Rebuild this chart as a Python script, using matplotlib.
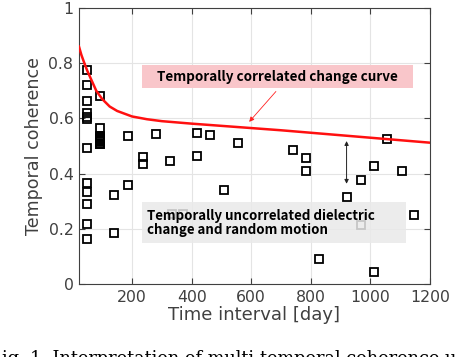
import matplotlib.pyplot as plt
import matplotlib.patches as mpatches
import numpy as np

# curve
curve_day = [22, 30, 40, 50, 60, 80, 100, 125, 150, 200, 250, 300, 400, 500,
             600, 700, 800, 900, 1000, 1100, 1200]
curve_coh = [0.86, 0.83, 0.80, 0.772, 0.748, 0.70, 0.67, 0.643, 0.627, 0.607,
             0.597, 0.59, 0.581, 0.573, 0.565, 0.557, 0.548, 0.539, 0.53,
             0.521, 0.512]

# measured coherence points
pt_day = [49] * 12 + [93] * 11 + [140, 140, 187, 187, 236, 236, 280, 327, 333,
          372, 417, 417, 462, 510, 557, 739, 784, 784, 828, 920, 967, 967,
          1013, 1013, 1057, 1105, 1147]
pt_coh = [0.775, 0.72, 0.664, 0.618, 0.606, 0.598, 0.492, 0.365, 0.334, 0.29,
          0.217, 0.164,
          0.682, 0.565, 0.537, 0.533, 0.529, 0.525, 0.521, 0.517, 0.513, 0.509,
          0.506,
          0.321, 0.184, 0.537, 0.359, 0.461, 0.434, 0.543, 0.447, 0.254,
          0.254, 0.548, 0.462, 0.54, 0.34, 0.51, 0.486, 0.456, 0.41, 0.09,
          0.314, 0.377, 0.214, 0.427, 0.045, 0.525, 0.41, 0.25]

txtc = '#404040'
boxfont = ['Noto Sans CJK KR', 'DejaVu Sans']
fig = plt.figure(figsize=(4.74, 3.57), dpi=100)
ax = fig.add_axes([79 / 474, 73 / 357, 351 / 474, 276 / 357])

ax.plot(curve_day, curve_coh, color='#ff1010', lw=1.8, zorder=3)
ax.plot(pt_day, pt_coh, ls='none', marker='s', mfc='none', mec='black',
        ms=6.2, mew=1.3, zorder=2)

ax.set_xlim(22, 1200)
ax.set_ylim(0, 1)
ax.set_xticks([200, 400, 600, 800, 1000, 1200])
ax.set_yticks([0, 0.2, 0.4, 0.6, 0.8, 1])
ax.set_yticklabels(['0', '0.2', '0.4', '0.6', '0.8', '1'])
ax.tick_params(direction='in', top=True, right=True, labelsize=11.3,
               colors='#404040', length=4, width=0.8, pad=4)
ax.grid(True, color='#e4e4e4', lw=0.8)
ax.set_axisbelow(True)
for s in ax.spines.values():
    s.set_color('#404040')
    s.set_linewidth(0.8)

ax.set_xlabel('Time interval [day]', fontsize=13, color=txtc, labelpad=1)
ax.set_ylabel('Temporal coherence', fontsize=12.6, color=txtc, labelpad=4)

# correlated curve label
ax.add_patch(mpatches.Rectangle((232, 0.71), 911, 0.083, color='#f9c6ca',
                                lw=0, zorder=4))
ax.text(687, 0.7515, 'Temporally correlated change curve', ha='center',
        va='center', fontsize=9.7, weight='bold', family=boxfont,
        color='black', zorder=5)
ax.annotate('', xy=(587, 0.58), xytext=(689, 0.705),
            arrowprops=dict(arrowstyle='-|>', color='#ff2020', lw=0.6,
                            mutation_scale=7), zorder=5)

# uncorrelated label
ax.add_patch(mpatches.Rectangle((232, 0.15), 887, 0.148, color='#e9e9e9',
                                alpha=0.85, lw=0, zorder=4))
ax.text(251, 0.222, 'Temporally uncorrelated dielectric\nchange and random motion',
        ha='left', va='center', fontsize=9.6, weight='bold', family=boxfont,
        color='black', linespacing=1.0, zorder=5)

ax.annotate('', xy=(920, 0.528), xytext=(920, 0.353),
            arrowprops=dict(arrowstyle='<|-|>', color='#222222', lw=0.7,
                            mutation_scale=6), zorder=5)

fig.text(0.004, 7 / 357, 'ig. 1. Interpretation of multi-temporal coherence u',
         ha='left', va='top', fontsize=12.8, family='DejaVu Serif',
         color='black')

fig.savefig('out.png', dpi=100)
